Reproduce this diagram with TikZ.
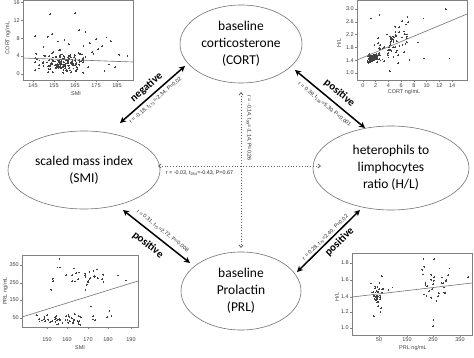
\documentclass[tikz,border=0pt]{standalone}
\usepackage{fontspec}
\setmainfont{Carlito}
\newfontfamily\arialf{Liberation Sans}
\usetikzlibrary{arrows.meta,shapes.geometric}
\newcommand\scpt[2]{\draw[ptm] (#1,#2) +(-0.9,0) -- +(0.9,0) +(0,-0.9) -- +(0,0.9);}
\begin{document}
\begin{tikzpicture}[x=1pt,y=-1pt,
  ell/.style={draw=black!55, line width=0.6pt, ellipse, inner sep=0pt, align=center,
    font=\fontsize{13.5}{17}\selectfont},
  arr/.style={line width=1.5pt, {Stealth[length=6pt,width=6pt]}-{Stealth[length=6pt,width=6pt]}},
  dotline/.style={draw=black!60, line width=0.8pt, dotted,
    {Straight Barb[length=2.5pt,width=4pt]}-{Straight Barb[length=2.5pt,width=4pt]}},
  stat/.style={font=\arialf\fontsize{5.4}{6}\selectfont, inner sep=0pt, text=black!85},
  pol/.style={font=\bfseries\fontsize{11}{13}\selectfont, inner sep=0pt},
  box/.style={draw=black!50, line width=0.5pt},
  reg/.style={draw=black!55, line width=0.6pt},
  tk/.style={font=\arialf\fontsize{5.5}{6}\selectfont, text=black!75, inner sep=0.6pt},
  axl/.style={font=\arialf\fontsize{5.5}{6}\selectfont, text=black!75, inner sep=0pt},
  ptm/.style={draw=black!75, line width=0.45pt}]
\useasboundingbox (0,0) rectangle (474,358);
\fill[white] (0,0) rectangle (474,358);

% ---------------- ellipses ----------------
\node[ell, minimum width=122pt, minimum height=78pt] (cort) at (241,44) {baseline\\corticosterone\\(CORT)};
\node[ell, minimum width=152pt, minimum height=78pt] (smi) at (84,170) {scaled mass index\\(SMI)};
\node[ell, minimum width=156pt, minimum height=84pt] (hl) at (391,168) {heterophils to\\limphocytes\\ratio (H/L)};
\node[ell, minimum width=120pt, minimum height=78pt] (prl) at (241,291) {baseline\\Prolactin\\(PRL)};

% ---------------- arrow end points ----------------
\coordinate (a1s) at (120,123); \coordinate (a1e) at (185,66);
\coordinate (a2s) at (295,70);  \coordinate (a2e) at (365,128);
\coordinate (a3s) at (123,210); \coordinate (a3e) at (190,263);
\coordinate (a4s) at (297,272); \coordinate (a4e) at (360,210);
\coordinate (dvs) at (241,92);  \coordinate (dve) at (241,248);
\coordinate (dhs) at (158,166); \coordinate (dhe) at (321,166);

\draw[arr] (a1s) -- (a1e);
\draw[arr] (a2s) -- (a2e);
\draw[arr] (a3s) -- (a3e);
\draw[arr] (a4s) -- (a4e);
\draw[dotline] (dvs) -- (dve);
\draw[dotline] (dhs) -- (dhe);

\node[pol, rotate=41] (l1) at (146.5,87.5) {negative};
\node[stat, rotate=41] (s1) at (155.5,100.5) {r = -0.18, t\textsubscript{173}=-2.34, P=0.02};
\node[pol, rotate=-39.6] (l2) at (339.5,93) {positive};
\node[stat, rotate=-39.6] (s2) at (324.5,104.5) {r = 0.39, t\textsubscript{156}=5.30, P<0.001};
\node[pol, rotate=-38.3] (l3) at (148,245) {positive};
\node[stat, rotate=-38.3] (s3) at (162.5,231) {r = 0.31, t\textsubscript{75}=2.72, P=0.008};
\node[pol, rotate=44.5] (l4) at (339.5,242) {positive};
\node[stat, rotate=44.5] (s4) at (325.5,237.5) {r = 0.28, t\textsubscript{70}=2.40, P=0.02};
\node[stat, rotate=-90] (s5) at (249,128) {r = -0.14, t\textsubscript{99}=-1.14, P=0.26};
\node[stat] (s6) at (199.5,173) {r = -0.03, t\textsubscript{284}=-0.43, P=0.67};

% ---------------- plot TL : SMI vs CORT ----------------
\draw[box] (23,0.5) rectangle (133,80);
\foreach \v/\yy in {0/74,4/56,8/38.5,12/20.5,16/2.5}{
  \draw[box] (23,\yy) -- (21,\yy);
  \node[tk, anchor=east] at (20.5,\yy) {\v};}
\foreach \v/\xx in {145/33,155/54,165/75,175/96,185/117}{
  \draw[box] (\xx,80) -- (\xx,82);
  \node[tk, anchor=north] at (\xx,83) {\v};}
\node[axl] (tlx) at (76,94) {SMI};
\node[axl, rotate=90] (tly) at (8,38) {CORT ng/mL};
\pgfmathsetseed{11}
\foreach \i in {1,...,140}{
  \pgfmathsetmacro\sv{max(146,min(189,159+5.5*(rand+rand+rand)))}
  \pgfmathsetmacro\cv{max(0.3,2.7+1.1*(rand+rand+rand))}
  \scpt{{33+(\sv-145)*2.1}}{{74-4.5*\cv}}}
\foreach \sv/\cv in {146/8.5,153/13.3,165/13.6,154/8.9,167/9.8,170/9.4,175/7.8,180/8.1,157/7.2,162/6.6,
  172/6.8,176/5.5,182/7.3,150/6,186/4.3,190/4,146/0.8,148/1.2,158/5.3,160/7.5,152/8.3,169/6.3,178/6.2,
  173/4.8,181/2.1,184/1.5,179/0.7,153/1.1}{
  \scpt{{33+(\sv-145)*2.1}}{{74-4.5*\cv}}}
\draw[reg] (23,58) -- (133,62);

% ---------------- plot TR : CORT vs H/L ----------------
\draw[box] (357,0.5) rectangle (467,80);
\foreach \v/\yy in {1.0/73,1.4/60.2,1.8/47.4,2.2/34.6,2.6/21.8,3.0/9}{
  \draw[box] (357,\yy) -- (355,\yy);
  \node[tk, anchor=east] at (354.5,\yy) {\v};}
\foreach \v in {0,2,...,14}{
  \draw[box] ({363+6.36*\v},80) -- ({363+6.36*\v},82);
  \node[tk, anchor=north] at ({363+6.36*\v},83) {\v};}
\node[axl] (trx) at (404,92) {CORT ng/mL};
\node[axl, rotate=90] (try) at (339,43) {H/L};
\pgfmathsetseed{23}
\foreach \i in {1,...,65}{
  \pgfmathsetmacro\cv{max(0.4,1.6+0.55*(rand+rand))}
  \pgfmathsetmacro\hv{1.48+0.07*(rand+rand+rand)}
  \scpt{{363+6.36*\cv}}{{73-32*(\hv-1)}}}
\foreach \i in {1,...,65}{
  \pgfmathsetmacro\cv{max(0.5,1.2+3.2*(rnd+rnd))}
  \pgfmathsetmacro\hv{max(1.05,min(2.85,1.55+0.09*\cv+0.3*(rand+rand)))}
  \scpt{{363+6.36*\cv}}{{73-32*(\hv-1)}}}
\foreach \cv/\hv in {13/3.0,13.6/1.45,9.6/1.45,9.5/2.7,7/2.75,2.6/2.8,1.3/2.7,3.8/2.2,5.5/1.3,4.2/1.05,
  7.3/1.4,6.5/1.65,8.7/1.95}{
  \scpt{{363+6.36*\cv}}{{73-32*(\hv-1)}}}
\draw[reg] (357,60) -- (467,14);

% ---------------- plot BL : SMI vs PRL ----------------
\draw[box] (22,255) rectangle (138,327);
\foreach \v/\yy in {50/318,150/300,250/283,350/265}{
  \draw[box] (22,\yy) -- (20,\yy);
  \node[tk, anchor=east] at (19.5,\yy) {\v};}
\foreach \v/\xx in {150/47,160/67,170/88,180/108,190/131}{
  \draw[box] (\xx,327) -- (\xx,329);
  \node[tk, anchor=north] at (\xx,336.5) {\v};}
\node[axl] (blx) at (80,348) {SMI};
\node[axl, rotate=90] (bly) at (5.5,291) {PRL ng/mL};
\pgfmathsetseed{37}
\foreach \i in {1,...,28}{
  \pgfmathsetmacro\sv{max(151,min(189,166+9*(rand+rand)))}
  \pgfmathsetmacro\pv{max(200,min(380,265+45*(rand+rand)))}
  \scpt{{47+(\sv-150)*2.08}}{{318-(\pv-50)*0.177}}}
\foreach \i in {1,...,45}{
  \pgfmathsetmacro\sv{max(145,min(182,159+7*(rand+rand+rand)))}
  \pgfmathsetmacro\pv{max(5,42+18*(rand+rand))}
  \scpt{{47+(\sv-150)*2.08}}{{318-(\pv-50)*0.177}}}
\foreach \sv/\pv in {156/385,155/335,163/330,184/290,188/262,171/115,180/90,181/60,172/60,179/55,152/210}{
  \scpt{{47+(\sv-150)*2.08}}{{318-(\pv-50)*0.177}}}
\draw[reg] (22,317) -- (138,281);

% ---------------- plot BR : PRL vs H/L ----------------
\draw[box] (352,253) rectangle (472,335);
\foreach \v/\yy in {1.0/328,1.2/312,1.4/297,1.6/280,1.8/263}{
  \draw[box] (352,\yy) -- (350,\yy);
  \node[tk, anchor=east] at (349.5,\yy) {\v};}
\foreach \v/\xx in {50/379,150/407,250/433,350/460}{
  \draw[box] (\xx,335) -- (\xx,337);
  \node[tk, anchor=north] at (\xx,336.5) {\v};}
\node[axl] (brx) at (413,348) {PRL ng/mL};
\node[axl, rotate=90] (bry) at (337,297) {H/L};
\pgfmathsetseed{51}
\foreach \i in {1,...,42}{
  \pgfmathsetmacro\pv{max(20,min(110,45+13*(rand+rand)))}
  \pgfmathsetmacro\hv{1.41+0.09*(rand+rand+rand)}
  \scpt{{379+(\pv-50)*0.27}}{{328-(\hv-1)*81}}}
\foreach \i in {1,...,30}{
  \pgfmathsetmacro\pv{max(200,min(335,265+33*(rand+rand)))}
  \pgfmathsetmacro\hv{1.52+0.1*(rand+rand+rand)}
  \scpt{{379+(\pv-50)*0.27}}{{328-(\hv-1)*81}}}
\foreach \pv/\hv in {250/1.02,252/1.1,215/1.85,255/1.85,30/1.15,380/1.63,100/1.5,210/1.72,85/1.47,60/1.64}{
  \scpt{{379+(\pv-50)*0.27}}{{328-(\hv-1)*81}}}
\draw[reg] (352,297) -- (472,283);
\end{tikzpicture}
\end{document}
